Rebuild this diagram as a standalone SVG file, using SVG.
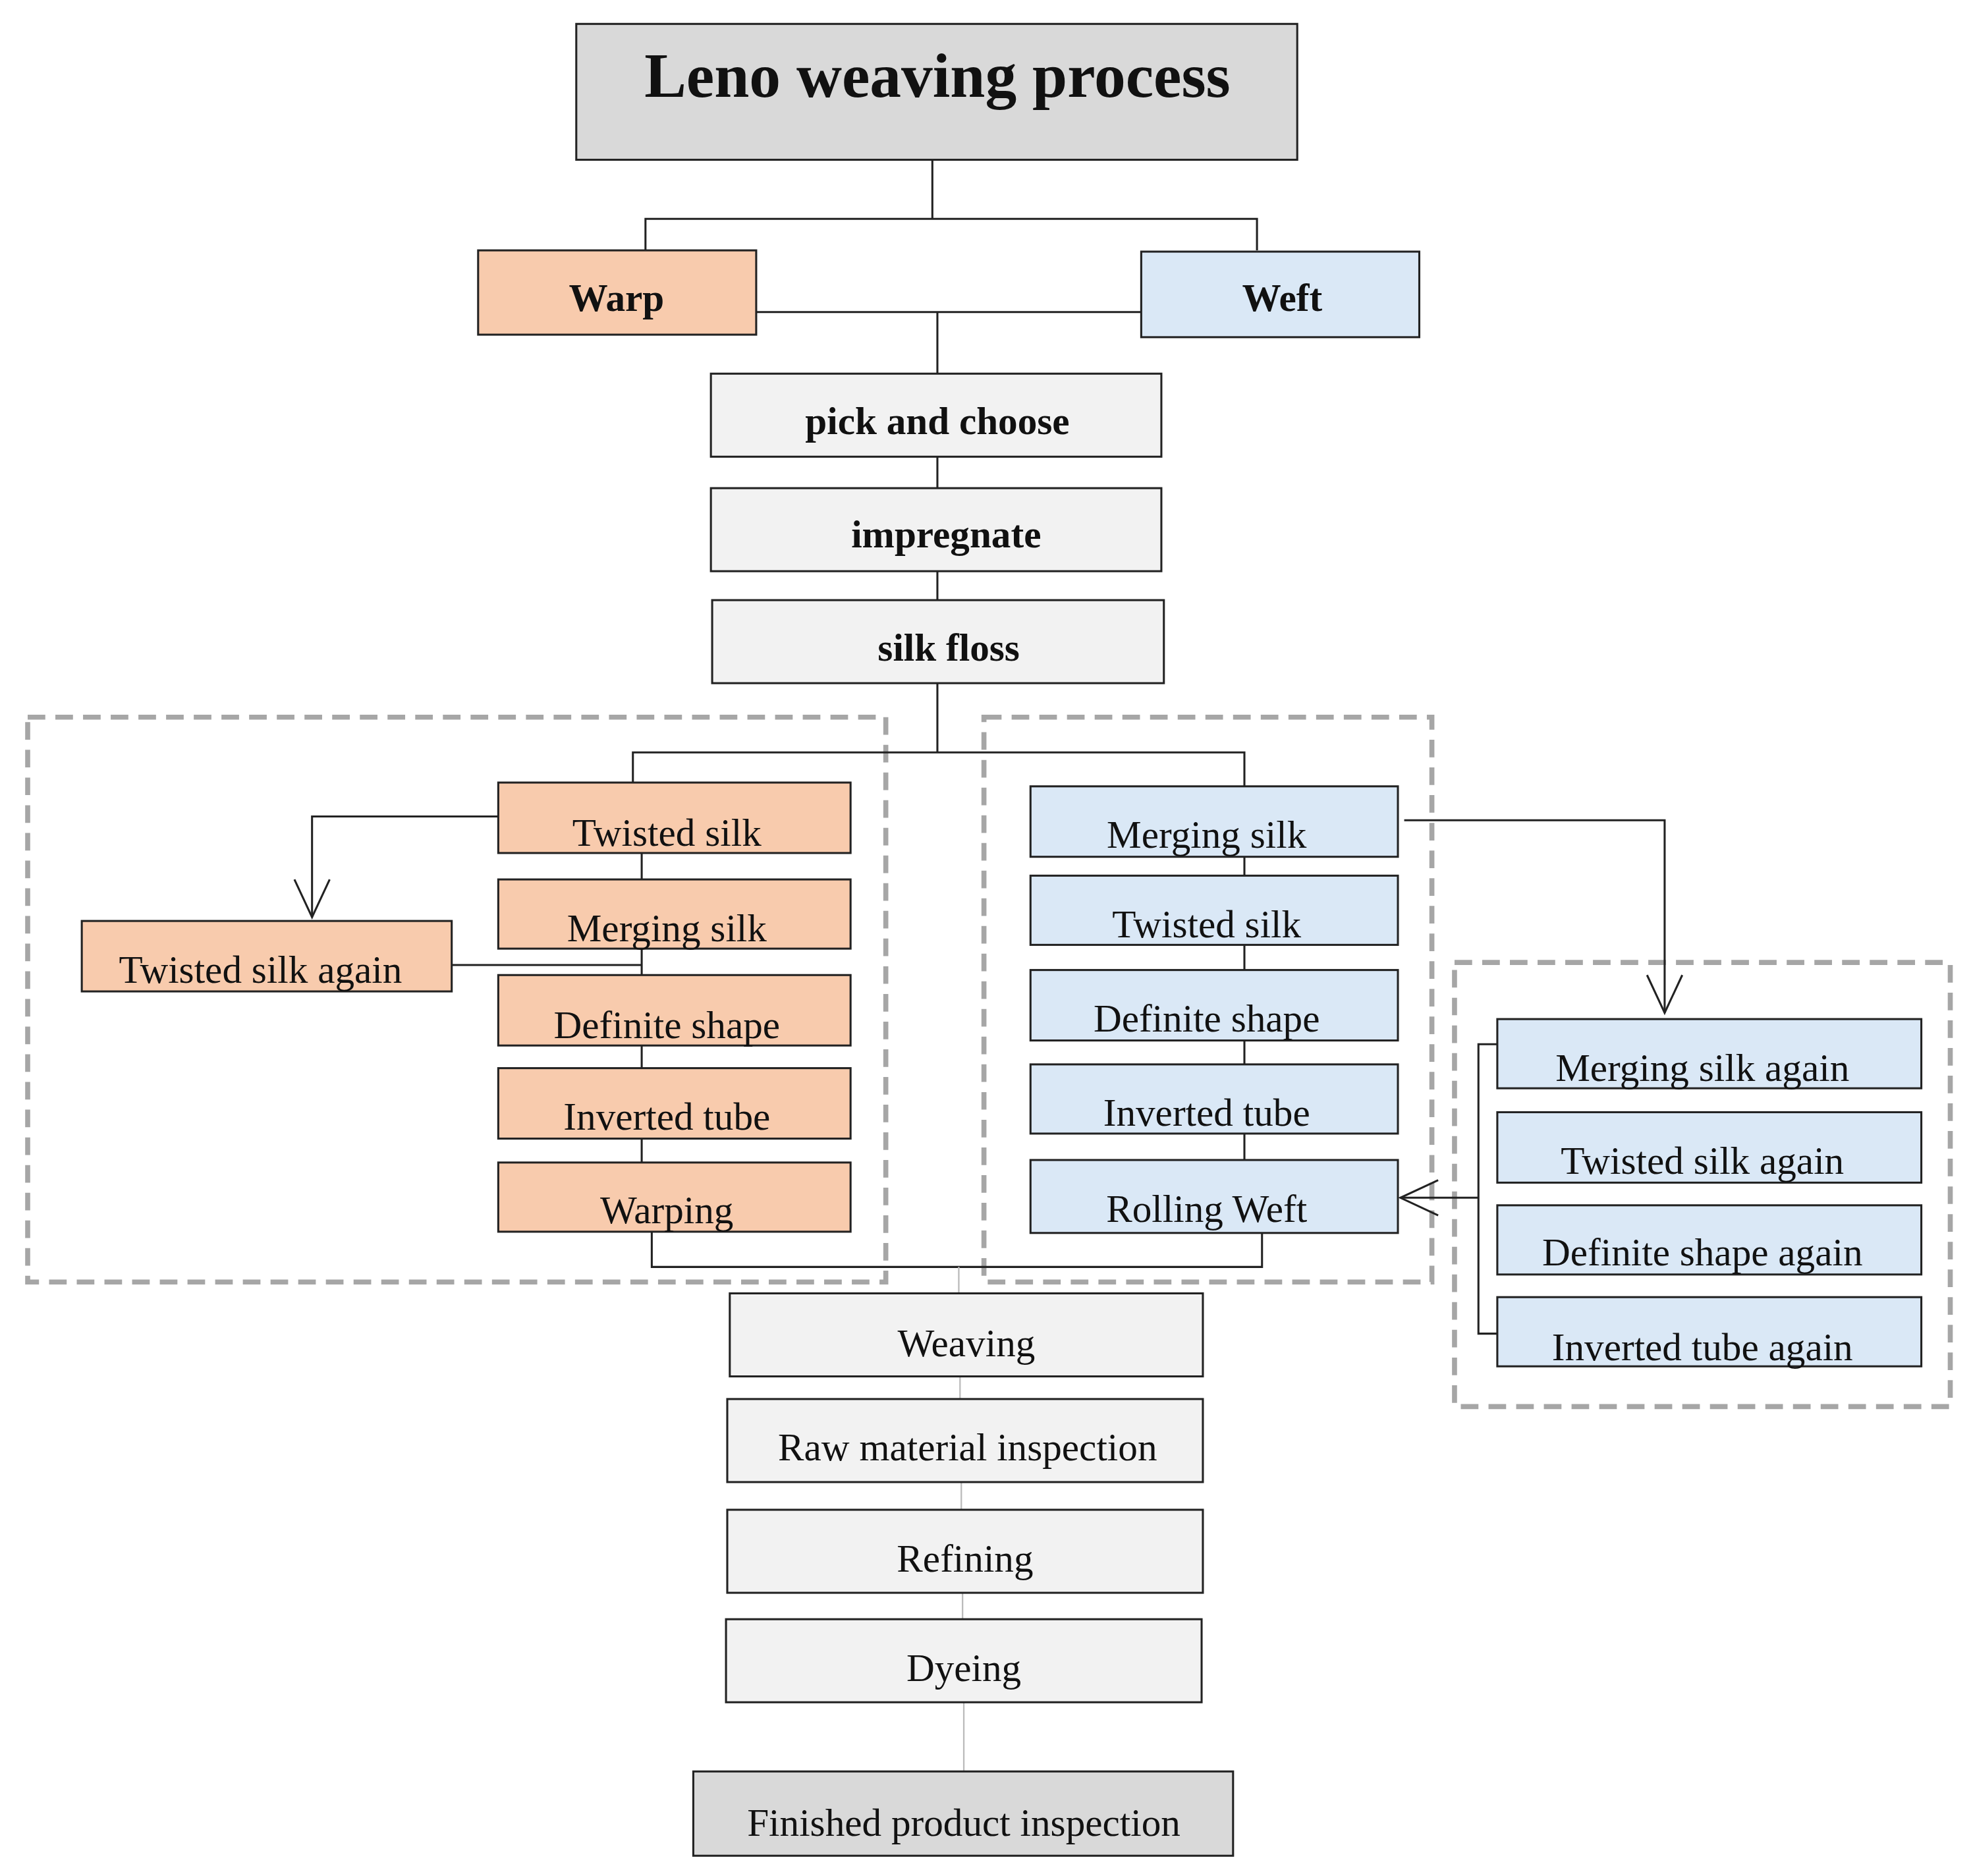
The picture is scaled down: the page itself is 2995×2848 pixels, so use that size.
<svg xmlns="http://www.w3.org/2000/svg" width="2995" height="2848" viewBox="0 0 2995 2848">
<style>
.b{stroke:#222;stroke-width:1.6}
.g{fill:#d9d9d9}.l{fill:#f2f2f2}.o{fill:#f8cbad}.u{fill:#dae8f6}
text{font-family:"Liberation Serif",serif;fill:#111;text-anchor:middle}
.t{font-size:31px}.bt{font-size:31px;font-weight:bold}
.c{fill:none;stroke:#222;stroke-width:1.6}
.cg{fill:none;stroke:#bbb;stroke-width:1.2}
.d{fill:none;stroke:#a6a6a6;stroke-width:4;stroke-dasharray:14 8}
</style>
<defs><marker id="a" markerWidth="34" markerHeight="30" refX="31" refY="15" orient="auto" markerUnits="userSpaceOnUse"><path d="M1,1 L31,15 L1,29" fill="none" stroke="#222" stroke-width="1.6"/></marker></defs>
<rect width="2995" height="2848" fill="#fff"/>
<g transform="scale(1.91)">
<g id="groups">
<rect class="d" x="22" y="570" width="682" height="449"/>
<rect class="d" x="782" y="570" width="356" height="449"/>
<rect class="d" x="1156" y="765" width="394" height="353"/>
</g>
<g id="connectors">
<path class="c" d="M741,127V174M513,199V174H999V199"/>
<path class="c" d="M601,248H907M745,248V297M745,363V388M745,454V477M745,543V598M503,622V598H989V625"/>
<path class="c" d="M510,678V699M510,754V775M510,831V849M510,905V924M359,767H510"/>
<path class="c" d="M396,649H248V729" marker-end="url(#a)"/>
<path class="c" d="M989,681V696M989,751V771M989,827V846M989,901V922"/>
<path class="c" d="M1116,652H1323V805" marker-end="url(#a)"/>
<path class="c" d="M1190,830H1175V1060H1190M1175,952H1113" marker-end="url(#a)"/>
<path class="c" d="M518,979V1007H1003V980"/>
<path class="cg" d="M762,1007V1028M763,1094V1112M764,1178V1200M765,1266V1287M766,1353V1408"/>
</g>
<g id="title"><rect class="b g" x="458" y="19" width="573" height="108"/><text x="745" y="77" style="font-size:50px;font-weight:bold">Leno weaving process</text></g>
<g id="warp"><rect class="b o" x="380" y="199" width="221" height="67"/><text class="bt" x="490" y="247">Warp</text></g>
<g id="weft"><rect class="b u" x="907" y="200" width="221" height="68"/><text class="bt" x="1019" y="247">Weft</text></g>
<g id="pick"><rect class="b l" x="565" y="297" width="358" height="66"/><text class="bt" x="745" y="345">pick and choose</text></g>
<g id="impregnate"><rect class="b l" x="565" y="388" width="358" height="66"/><text class="bt" x="752" y="435">impregnate</text></g>
<g id="floss"><rect class="b l" x="566" y="477" width="359" height="66"/><text class="bt" x="754" y="525">silk floss</text></g>
<g id="w1"><rect class="b o" x="396" y="622" width="280" height="56"/><text class="t" x="530" y="672">Twisted silk</text></g>
<g id="w2"><rect class="b o" x="396" y="699" width="280" height="55"/><text class="t" x="530" y="748">Merging silk</text></g>
<g id="w3"><rect class="b o" x="396" y="775" width="280" height="56"/><text class="t" x="530" y="825">Definite shape</text></g>
<g id="w4"><rect class="b o" x="396" y="849" width="280" height="56"/><text class="t" x="530" y="898">Inverted tube</text></g>
<g id="w5"><rect class="b o" x="396" y="924" width="280" height="55"/><text class="t" x="530" y="972">Warping</text></g>
<g id="wa"><rect class="b o" x="65" y="732" width="294" height="56"/><text class="t" x="207" y="781">Twisted silk again</text></g>
<g id="f1"><rect class="b u" x="819" y="625" width="292" height="56"/><text class="t" x="959" y="674">Merging silk</text></g>
<g id="f2"><rect class="b u" x="819" y="696" width="292" height="55"/><text class="t" x="959" y="745">Twisted silk</text></g>
<g id="f3"><rect class="b u" x="819" y="771" width="292" height="56"/><text class="t" x="959" y="820">Definite shape</text></g>
<g id="f4"><rect class="b u" x="819" y="846" width="292" height="55"/><text class="t" x="959" y="895">Inverted tube</text></g>
<g id="f5"><rect class="b u" x="819" y="922" width="292" height="58"/><text class="t" x="959" y="971">Rolling Weft</text></g>
<g id="r1"><rect class="b u" x="1190" y="810" width="337" height="55"/><text class="t" x="1353" y="859">Merging silk again</text></g>
<g id="r2"><rect class="b u" x="1190" y="884" width="337" height="56"/><text class="t" x="1353" y="933">Twisted silk again</text></g>
<g id="r3"><rect class="b u" x="1190" y="958" width="337" height="55"/><text class="t" x="1353" y="1006">Definite shape again</text></g>
<g id="r4"><rect class="b u" x="1190" y="1031" width="337" height="55"/><text class="t" x="1353" y="1081">Inverted tube again</text></g>
<g id="weaving"><rect class="b l" x="580" y="1028" width="376" height="66"/><text class="t" x="768" y="1078">Weaving</text></g>
<g id="raw"><rect class="b l" x="578" y="1112" width="378" height="66"/><text class="t" x="769" y="1161">Raw material inspection</text></g>
<g id="refining"><rect class="b l" x="578" y="1200" width="378" height="66"/><text class="t" x="767" y="1249">Refining</text></g>
<g id="dyeing"><rect class="b l" x="577" y="1287" width="378" height="66"/><text class="t" x="766" y="1336">Dyeing</text></g>
<g id="finished"><rect class="b g" x="551" y="1408" width="429" height="67"/><text class="t" x="766" y="1459">Finished product inspection</text></g>
</g>
</svg>
